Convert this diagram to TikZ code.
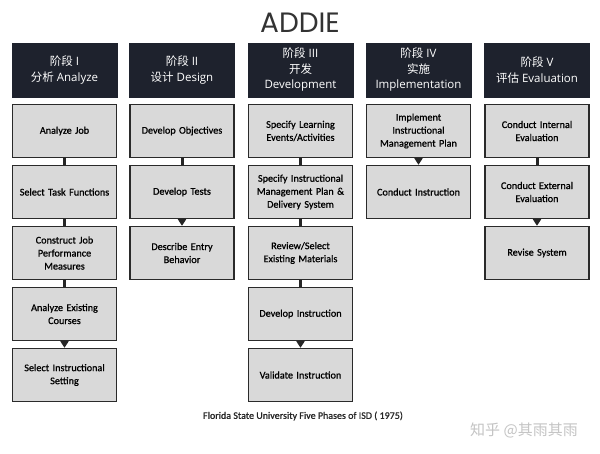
\documentclass[tikz,border=0pt]{standalone}
\usepackage{fontspec}
\setmainfont{Carlito}
\newfontfamily\boxfont[FakeBold=0.9]{Carlito}
\newfontfamily\hdfont{Open Sans}
\newfontfamily\cjk{Noto Sans CJK SC}
\newfontfamily\titlefont{Poppins}
\usetikzlibrary{arrows.meta}
\definecolor{hdbg}{HTML}{1E222D}
\definecolor{boxbg}{HTML}{D9D9D9}
\definecolor{boxline}{HTML}{2A2A2A}
\definecolor{wm}{HTML}{C4C4C4}
\tikzset{
  hd/.style={fill=hdbg, draw=hdbg, minimum width=105pt, minimum height=54pt, text=white,
    align=center, font=\hdfont\fontsize{11.5}{16}\selectfont, inner sep=1pt},
  stepbox/.style={fill=boxbg, draw=boxline, line width=1.5pt, minimum width=104pt, minimum height=53pt,
    align=center, font=\boxfont\fontsize{10.2}{13}\selectfont, text width=100pt, inner sep=1pt},
  link/.style={draw=black!85, line width=3pt},
  arr/.style={link, -{Triangle[width=8pt,length=6.5pt]}}
}
\begin{document}
\begin{tikzpicture}[x=1pt,y=-1pt]
\useasboundingbox[fill=white] (0,0) rectangle (600,454);
\node[font=\titlefont\fontsize{28}{30}\selectfont, text=black!80] (title) at (300,23) {ADDIE};
% headers
\node[hd] (h1) at (64.5,70) {{\cjk 阶段} I\\{\cjk 分析} Analyze};
\node[hd] (h2) at (182,70) {{\cjk 阶段} II\\{\cjk 设计} Design};
\node[hd, font=\hdfont\fontsize{11.5}{15.5}\selectfont] (h3) at (300.5,70) {{\cjk 阶段} III\\{\cjk 开发}\\Development};
\node[hd, font=\hdfont\fontsize{11.5}{15.5}\selectfont] (h4) at (418.5,70) {{\cjk 阶段} IV\\{\cjk 实施}\\Implementation};
\node[hd] (h5) at (537,70) {{\cjk 阶段} V\\{\cjk 评估} Evaluation};
% column 1
\node[stepbox] (a1) at (64.5,131) {Analyze Job};
\node[stepbox] (a2) at (64.5,192) {Select Task Functions};
\node[stepbox] (a3) at (64.5,253) {Construct Job\\Performance\\Measures};
\node[stepbox] (a4) at (64.5,314) {Analyze Existing\\Courses};
\node[stepbox] (a5) at (64.5,375) {Select Instructional\\Setting};
% column 2
\node[stepbox] (b1) at (182,131) {Develop Objectives};
\node[stepbox] (b2) at (182,192) {Develop Tests};
\node[stepbox] (b3) at (182,253) {Describe Entry\\Behavior};
% column 3
\node[stepbox] (c1) at (300.5,131) {Specify Learning\\Events/Activities};
\node[stepbox] (c2) at (300.5,192) {Specify Instructional\\Management Plan \&\\Delivery System};
\node[stepbox] (c3) at (300.5,253) {Review/Select\\Existing Materials};
\node[stepbox] (c4) at (300.5,314) {Develop Instruction};
\node[stepbox] (c5) at (300.5,375) {Validate Instruction};
% column 4
\node[stepbox] (d1) at (418.5,131) {Implement\\Instructional\\Management Plan};
\node[stepbox] (d2) at (418.5,192) {Conduct Instruction};
% column 5
\node[stepbox] (e1) at (537,131) {Conduct Internal\\Evaluation};
\node[stepbox] (e2) at (537,192) {Conduct External\\Evaluation};
\node[stepbox] (e3) at (537,253) {Revise System};
% connectors
\draw[link] (a1) -- (a2);
\draw[link] (a2) -- (a3);
\draw[link] (a3) -- (a4);
\draw[arr] (a4) -- (a5);
\draw[link] (b1) -- (b2);
\draw[arr] (b2) -- (b3);
\draw[link] (c1) -- (c2);
\draw[link] (c2) -- (c3);
\draw[link] (c3) -- (c4);
\draw[arr] (c4) -- (c5);
\draw[arr] (d1) -- (d2);
\draw[link] (e1) -- (e2);
\draw[arr] (e2) -- (e3);
% footer
\node[font=\boxfont\fontsize{10}{12}\selectfont, text=black!85] (cap) at (303,416) {Florida State University Five Phases of ISD ( 1975)};
\node[font=\cjk\fontsize{15}{18}\selectfont, text=wm] (wmk) at (524,430) {知乎 @其雨其雨};
\end{tikzpicture}
\end{document}
